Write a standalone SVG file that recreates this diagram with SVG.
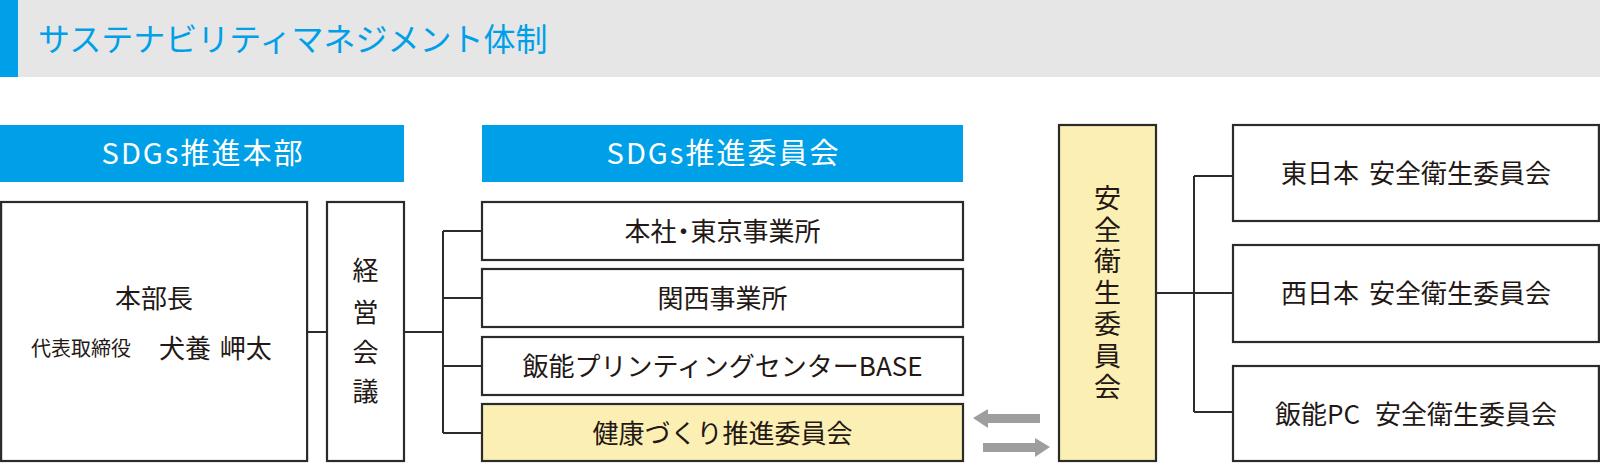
<svg xmlns="http://www.w3.org/2000/svg" width="1600" height="463" viewBox="0 0 1600 463">
<style>
text{font-family:"Noto Sans CJK JP","Noto Sans",sans-serif;fill:#231815}
.box{fill:#fff;stroke:#2b2b2b;stroke-width:2.2}
.yel{fill:#fcefb4;stroke:#2b2b2b;stroke-width:2.2}
.hdr{fill:#00a0e9}
.ht{fill:#fff;font-size:29px;text-anchor:middle;letter-spacing:2px}
.t{font-size:26px;text-anchor:middle}
.rt{font-size:26px;text-anchor:middle;word-spacing:4px}
.vt{font-size:26px;text-anchor:middle}
.con{fill:none;stroke:#2b2b2b;stroke-width:2}
.arr{fill:#9e9e9e}
</style>
<g id="title">
<rect x="0" y="0" width="1600" height="77" fill="#e6e6e6"/>
<rect x="0" y="0" width="18" height="77" fill="#00a0e9"/>
<text x="38" y="51" style="font-size:32px;fill:#00a0e9">サステナビリティマネジメント体制</text>
</g>
<g id="hdr-honbu">
<rect class="hdr" x="0" y="125" width="404" height="57"/>
<text class="ht" x="203" y="164">SDGs推進本部</text>
</g>
<g id="hdr-iinkai">
<rect class="hdr" x="482" y="125" width="481" height="57"/>
<text class="ht" x="723.5" y="164">SDGs推進委員会</text>
</g>
<g id="connectors">
<path class="con" d="M308 332H327M404 332H443M443 231V433M443 231H482M443 298H482M443 366H482M443 433H482"/>
<path class="con" d="M1156 293H1194M1194 176V412M1194 176H1233M1194 293H1233M1194 412H1233"/>
<path class="arr" d="M973 418L988 409V414H1040V423H988V428Z"/>
<path class="arr" d="M1050 447L1035 438V443H983V452H1035V457Z"/>
</g>
<g id="node-honbucho">
<rect class="box" x="1.1" y="202" width="306" height="259"/>
<text class="t" x="154" y="308">本部長</text>
<text x="31" y="356" style="font-size:20px">代表取締役</text>
<text x="159" y="358" style="font-size:26px;word-spacing:3px">犬養 岬太</text>
</g>
<g id="node-keiei">
<rect class="box" x="327" y="202" width="77" height="259"/>
<text class="vt"><tspan x="365.5" y="280">経</tspan><tspan x="365.5" y="322">営</tspan><tspan x="365.5" y="362">会</tspan><tspan x="365.5" y="401">議</tspan></text>
</g>
<g id="node-honsha">
<rect class="box" x="482" y="202" width="481" height="58"/>
<text class="t" x="722.5" y="240.5">本<tspan style="letter-spacing:-6px">社・</tspan>東京事業所</text>
</g>
<g id="node-kansai">
<rect class="box" x="482" y="269" width="481" height="58"/>
<text class="t" x="722.5" y="307.5">関西事業所</text>
</g>
<g id="node-hanno">
<rect class="box" x="482" y="337" width="481" height="58"/>
<text class="t" x="722.5" y="375.5">飯能プリンティングセンターBASE</text>
</g>
<g id="node-kenko">
<rect class="yel" x="482" y="404" width="481" height="57"/>
<text class="t" x="722.5" y="442.5">健康づくり推進委員会</text>
</g>
<g id="node-anzen">
<rect class="yel" x="1059" y="125" width="97" height="336"/>
<text x="1107.5" y="184.5" writing-mode="vertical-rl" style="font-size:27px;letter-spacing:4.5px">安全衛生委員会</text>
</g>
<g id="node-east">
<rect class="box" x="1233" y="125" width="365.9" height="96"/>
<text class="rt" x="1416" y="182.5">東日本 安全衛生委員会</text>
</g>
<g id="node-west">
<rect class="box" x="1233" y="245" width="365.9" height="97"/>
<text class="rt" x="1416" y="303">西日本 安全衛生委員会</text>
</g>
<g id="node-hannopc">
<rect class="box" x="1233" y="366" width="365.9" height="95"/>
<text class="rt" x="1416" y="423.5" style="word-spacing:9px">飯能PC 安全衛生委員会</text>
</g>
</svg>
